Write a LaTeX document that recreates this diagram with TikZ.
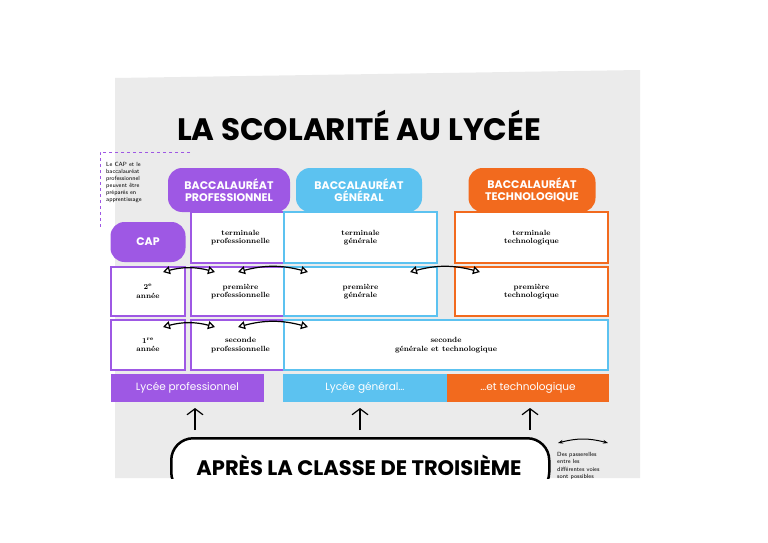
\documentclass[tikz,border=0pt]{standalone}
\usepackage{fontspec}
\newfontfamily\pop{Poppins}
\usetikzlibrary{arrows.meta}
\definecolor{pu}{HTML}{9E58E4}
\definecolor{bl}{HTML}{5CC2F0}
\definecolor{og}{HTML}{F26A1E}
\definecolor{bg}{HTML}{EBEBEB}
\tikzset{
 pill/.style={rounded corners=14pt,fill=#1,text=white,font=\pop\bfseries\fontsize{11}{12}\selectfont,align=center,inner sep=0pt},
 cell/.style={draw=#1,line width=1.3pt,fill=white,font=\fontsize{7.5}{8.5}\selectfont\bfseries,align=center,inner sep=0pt},
 bar/.style={fill=#1,text=white,font=\pop\fontsize{10.5}{11}\selectfont,inner sep=0pt},
 dbl/.style={{Triangle[open,length=7pt,width=8pt]}-{Triangle[open,length=7pt,width=8pt]},line width=1.2pt,bend left=15},
 up/.style={-{Straight Barb[length=6pt,width=16pt]},line width=1.2pt}
}
\begin{document}
\begin{tikzpicture}[x=1pt,y=-1pt]
\useasboundingbox (0,0) rectangle (768,543);
\fill[bg] (115,78) -- (640,70) -- (640,478) -- (115,478) -- cycle;
\draw[pu,dashed,line width=1pt] (190,152) -- (100,152) -- (100,228);
\node[anchor=north west,align=left,font=\sffamily\fontsize{6}{7}\selectfont,inner sep=0pt] (note) at (106,162) {Le CAP et le\\baccalauréat\\professionnel\\peuvent être\\préparés en\\apprentissage};
\node[font=\pop\bfseries\fontsize{31}{32}\selectfont] (title) at (359,125) {LA SCOLARITÉ AU LYCÉE};
\node[pill=pu,minimum width=122pt,minimum height=44pt] (hp) at (229,190) {BACCALAURÉAT\\PROFESSIONNEL};
\node[pill=bl,minimum width=126pt,minimum height=44pt] (hg) at (359,190) {BACCALAURÉAT\\GÉNÉRAL};
\node[pill=og,minimum width=127pt,minimum height=44pt] (ht) at (532,190) {BACCALAURÉAT\\TECHNOLOGIQUE};
\node[pill=pu,minimum width=75pt,minimum height=40pt] (cap) at (148,242) {CAP};
\node[cell=pu,minimum width=99pt,minimum height=51pt] (tp) at (240.5,237.5) {terminale\\professionnelle};
\node[cell=bl,minimum width=153pt,minimum height=51pt] (tg) at (360.5,237.5) {terminale\\générale};
\node[cell=og,minimum width=153pt,minimum height=51pt] (tt) at (531.5,237.5) {terminale\\technologique};
\node[cell=pu,minimum width=74pt,minimum height=49pt] (a2) at (148,291.5) {2\textsuperscript{e}\\année};
\node[cell=pu,minimum width=99pt,minimum height=49pt] (pp) at (240.5,291.5) {première\\professionnelle};
\node[cell=bl,minimum width=153pt,minimum height=49pt] (pg) at (360.5,291.5) {première\\générale};
\node[cell=og,minimum width=153pt,minimum height=49pt] (pt) at (531.5,291.5) {première\\technologique};
\node[cell=pu,minimum width=74pt,minimum height=50pt] (a1) at (148,345) {1\textsuperscript{re}\\année};
\node[cell=pu,minimum width=99pt,minimum height=50pt] (sp) at (240.5,345) {seconde\\professionnelle};
\node[cell=bl,minimum width=324pt,minimum height=50pt] (sg) at (446,345) {seconde\\générale et technologique};
\node[bar=pu,minimum width=153pt,minimum height=28pt] (lp) at (187.5,388) {Lycée professionnel};
\node[bar=bl,minimum width=164pt,minimum height=28pt] (lg) at (365,388) {Lycée général…};
\node[bar=og,minimum width=162pt,minimum height=28pt] (lt) at (528,388) {…et technologique};
\coordinate (r2a) at (163,272); \coordinate (r2b) at (215,272);
\coordinate (r2c) at (238,272); \coordinate (r2d) at (308,272);
\coordinate (r2e) at (410,272); \coordinate (r2f) at (480,272);
\coordinate (r3a) at (163,327); \coordinate (r3b) at (215,327);
\coordinate (r3c) at (238,327); \coordinate (r3d) at (308,327);
\draw[dbl] (r2a) to (r2b); \draw[dbl] (r2c) to (r2d); \draw[dbl] (r2e) to (r2f);
\draw[dbl] (r3a) to (r3b); \draw[dbl] (r3c) to (r3d);
\begin{scope}
\clip (150,420) rectangle (560,478);
\node[draw,line width=2.5pt,rounded corners=22pt,fill=white,minimum width=378pt,minimum height=56pt,anchor=north west,inner sep=0pt] (apres) at (170,437) {};
\end{scope}
\node[font=\pop\bfseries\fontsize{21}{22}\selectfont] (apt) at (359,465) {APRÈS LA CLASSE DE TROISIÈME};
\coordinate (u1) at (195,430); \coordinate (u1e) at (195,408);
\coordinate (u2) at (360,430); \coordinate (u2e) at (360,408);
\coordinate (u3) at (530,430); \coordinate (u3e) at (530,408);
\draw[up] (u1) -- (u1e); \draw[up] (u2) -- (u2e); \draw[up] (u3) -- (u3e);
\coordinate (la) at (558,443); \coordinate (lb) at (608,443);
\draw[{Stealth[length=5pt]}-{Stealth[length=5pt]},line width=1pt,bend left=15] (la) to (lb);
\begin{scope}
\clip (550,448) rectangle (640,478);
\node[anchor=north west,align=left,font=\sffamily\fontsize{6}{7.5}\selectfont,inner sep=0pt] (leg) at (557,452) {Des passerelles\\entre les\\différentes voies\\sont possibles};
\end{scope}
\end{tikzpicture}
\end{document}
